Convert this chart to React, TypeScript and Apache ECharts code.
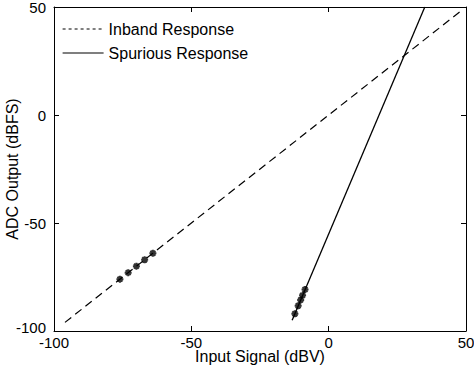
import React, { useEffect, useRef } from "react";
import * as echarts from "echarts";

// Data
const inbandLineX = [-96, 49];
const inbandLineY = [-96, 49];
const spuriousLineX = [-13.3, 35];
const spuriousLineY = [-95, 50];
const inbandPointsX = [-76, -73, -70, -67, -64];
const inbandPointsY = [-76, -73, -70, -67, -64];
const spuriousPointsX = [-12.3, -11.1, -10.2, -9.5, -8.6];
const spuriousPointsY = [-92, -88.3, -85.6, -83.5, -80.8];
const seriesNames = ["Inband Response", "Spurious Response"];
const axisMin = -100;
const axisMax = 50;
const axisStep = 50;

const zip = (xs: number[], ys: number[]) => xs.map((x, i) => [x, ys[i]]);

const FONT = "'Liberation Sans', Arial, Helvetica, sans-serif";
const STAR = "path://M0,5L10,5M5,0L5,10M1.5,1.5L8.5,8.5M8.5,1.5L1.5,8.5";

export default function App() {
  const ref = useRef<HTMLDivElement>(null);

  useEffect(() => {
    if (!ref.current) return;
    const chart = echarts.init(ref.current, undefined, { renderer: "svg" });

    const axisCommon = {
      type: "value" as const,
      min: axisMin,
      max: axisMax,
      interval: axisStep,
      splitLine: { show: false },
      axisLine: { show: true, onZero: false, lineStyle: { color: "#000", width: 1 } },
      axisTick: { show: true, inside: true, length: 5, lineStyle: { color: "#000", width: 1 } },
    };

    chart.setOption({
      animation: false,
      backgroundColor: "#fff",
      grid: {
        left: 54,
        right: 8,
        top: 7,
        bottom: 39,
        containLabel: false,
        outerBoundsMode: "none",
      },
      legend: {
        orient: "vertical",
        left: 62,
        top: 21,
        padding: 0,
        itemWidth: 41,
        itemHeight: 14,
        itemGap: 8,
        selectedMode: false,
        textStyle: { fontSize: 16, color: "#000", fontFamily: FONT },
        data: [
          {
            name: seriesNames[0],
            lineStyle: { type: [3, 3], width: 1 },
            itemStyle: { opacity: 0 },
          },
          {
            name: seriesNames[1],
            lineStyle: { width: 1.2 },
            itemStyle: { opacity: 0 },
          },
        ],
      },
      xAxis: [
        {
          ...axisCommon,
          position: "bottom",
          axisLabel: { fontSize: 15, color: "#000", margin: 4, fontFamily: FONT },
          name: "Input Signal (dBV)",
          nameLocation: "middle",
          nameGap: 17,
          nameMoveOverlap: false,
          nameTextStyle: { fontSize: 16, color: "#000", fontFamily: FONT, verticalAlign: "top" },
        },
        {
          ...axisCommon,
          position: "top",
          axisLabel: { show: false },
        },
      ],
      yAxis: [
        {
          ...axisCommon,
          position: "left",
          axisLabel: {
            fontSize: 15,
            color: "#000",
            margin: 8,
            fontFamily: FONT,
            formatter: (v: number) => (v === axisMin ? `{low|${v}}` : `${v}`),
            rich: { low: { fontSize: 15, fontFamily: FONT, color: "#000", padding: [0, 0, 8, 0] } },
          },
          name: "ADC Output (dBFS)",
          nameLocation: "middle",
          nameGap: 34,
          nameMoveOverlap: false,
          nameTextStyle: { fontSize: 16, color: "#000", fontFamily: FONT },
        },
        {
          ...axisCommon,
          position: "right",
          axisLabel: { show: false },
        },
      ],
      series: [
        {
          name: seriesNames[0],
          type: "line",
          data: zip(inbandLineX, inbandLineY),
          symbol: "none",
          color: "#000",
          lineStyle: { color: "#000", width: 1.2, type: [8, 5] },
        },
        {
          name: seriesNames[1],
          type: "line",
          data: zip(spuriousLineX, spuriousLineY),
          symbol: "none",
          color: "#000",
          lineStyle: { color: "#000", width: 1.3, type: "solid" },
        },
        {
          name: "Inband Measured",
          type: "scatter",
          data: zip(inbandPointsX, inbandPointsY),
          symbol: STAR,
          symbolSize: 7,
          itemStyle: { color: "#000", borderColor: "#000", borderWidth: 2 },
        },
        {
          name: "Spurious Measured",
          type: "scatter",
          data: zip(spuriousPointsX, spuriousPointsY),
          symbol: STAR,
          symbolSize: 7,
          itemStyle: { color: "#000", borderColor: "#000", borderWidth: 2 },
        },
      ],
    });

    return () => chart.dispose();
  }, []);

  return (
    <div
      ref={ref}
      style={{ position: "fixed", left: 0, top: 0, width: 474, height: 370, background: "#fff" }}
    />
  );
}
